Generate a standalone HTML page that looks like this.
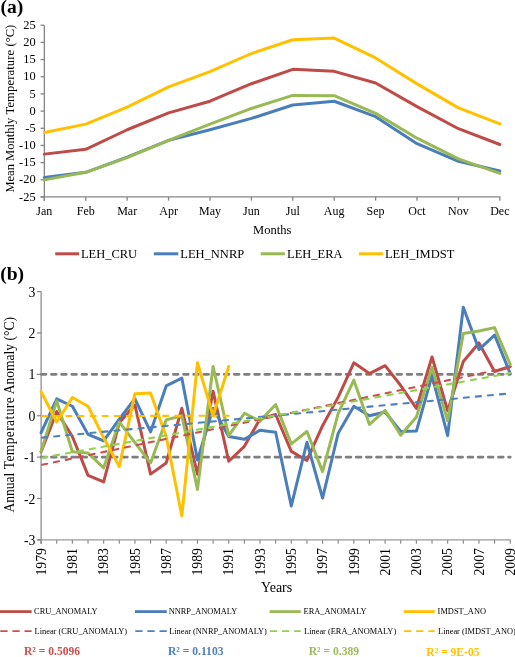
<!DOCTYPE html>
<html><head><meta charset="utf-8"><title>Temperature charts</title>
<style>
html,body{margin:0;padding:0;background:#fff;}
body{width:515px;height:657px;overflow:hidden;}
svg{display:block;font-family:"Liberation Serif","DejaVu Serif",serif;}
</style></head><body>
<svg width="515" height="657" viewBox="0 0 515 657">
<rect x="0" y="0" width="515" height="657" fill="#ffffff"/>
<line x1="44.35" y1="25.25" x2="44.35" y2="200.65" stroke="#858585" stroke-width="1.3" />
<line x1="40.55" y1="196.95" x2="500.45" y2="196.95" stroke="#858585" stroke-width="1.3" />
<line x1="40.55" y1="25.25" x2="44.35" y2="25.25" stroke="#858585" stroke-width="1.3" />
<text x="35.60" y="28.85" font-size="12.4" text-anchor="end" font-weight="normal" fill="#000" >25</text>
<line x1="40.55" y1="42.42" x2="44.35" y2="42.42" stroke="#858585" stroke-width="1.3" />
<text x="35.60" y="46.02" font-size="12.4" text-anchor="end" font-weight="normal" fill="#000" >20</text>
<line x1="40.55" y1="59.59" x2="44.35" y2="59.59" stroke="#858585" stroke-width="1.3" />
<text x="35.60" y="63.19" font-size="12.4" text-anchor="end" font-weight="normal" fill="#000" >15</text>
<line x1="40.55" y1="76.76" x2="44.35" y2="76.76" stroke="#858585" stroke-width="1.3" />
<text x="35.60" y="80.36" font-size="12.4" text-anchor="end" font-weight="normal" fill="#000" >10</text>
<line x1="40.55" y1="93.93" x2="44.35" y2="93.93" stroke="#858585" stroke-width="1.3" />
<text x="35.60" y="97.53" font-size="12.4" text-anchor="end" font-weight="normal" fill="#000" >5</text>
<line x1="40.55" y1="111.10" x2="44.35" y2="111.10" stroke="#858585" stroke-width="1.3" />
<text x="35.60" y="114.70" font-size="12.4" text-anchor="end" font-weight="normal" fill="#000" >0</text>
<line x1="40.55" y1="128.27" x2="44.35" y2="128.27" stroke="#858585" stroke-width="1.3" />
<text x="35.60" y="131.87" font-size="12.4" text-anchor="end" font-weight="normal" fill="#000" >-5</text>
<line x1="40.55" y1="145.44" x2="44.35" y2="145.44" stroke="#858585" stroke-width="1.3" />
<text x="35.60" y="149.04" font-size="12.4" text-anchor="end" font-weight="normal" fill="#000" >-10</text>
<line x1="40.55" y1="162.61" x2="44.35" y2="162.61" stroke="#858585" stroke-width="1.3" />
<text x="35.60" y="166.21" font-size="12.4" text-anchor="end" font-weight="normal" fill="#000" >-15</text>
<line x1="40.55" y1="179.78" x2="44.35" y2="179.78" stroke="#858585" stroke-width="1.3" />
<text x="35.60" y="183.38" font-size="12.4" text-anchor="end" font-weight="normal" fill="#000" >-20</text>
<line x1="40.55" y1="196.95" x2="44.35" y2="196.95" stroke="#858585" stroke-width="1.3" />
<text x="35.60" y="200.55" font-size="12.4" text-anchor="end" font-weight="normal" fill="#000" >-25</text>
<line x1="44.35" y1="196.95" x2="44.35" y2="200.65" stroke="#858585" stroke-width="1.3" />
<text x="44.35" y="215.20" font-size="12" text-anchor="middle" font-weight="normal" fill="#000" >Jan</text>
<line x1="85.76" y1="196.95" x2="85.76" y2="200.65" stroke="#858585" stroke-width="1.3" />
<text x="85.76" y="215.20" font-size="12" text-anchor="middle" font-weight="normal" fill="#000" >Feb</text>
<line x1="127.17" y1="196.95" x2="127.17" y2="200.65" stroke="#858585" stroke-width="1.3" />
<text x="127.17" y="215.20" font-size="12" text-anchor="middle" font-weight="normal" fill="#000" >Mar</text>
<line x1="168.58" y1="196.95" x2="168.58" y2="200.65" stroke="#858585" stroke-width="1.3" />
<text x="168.58" y="215.20" font-size="12" text-anchor="middle" font-weight="normal" fill="#000" >Apr</text>
<line x1="209.99" y1="196.95" x2="209.99" y2="200.65" stroke="#858585" stroke-width="1.3" />
<text x="209.99" y="215.20" font-size="12" text-anchor="middle" font-weight="normal" fill="#000" >May</text>
<line x1="251.40" y1="196.95" x2="251.40" y2="200.65" stroke="#858585" stroke-width="1.3" />
<text x="251.40" y="215.20" font-size="12" text-anchor="middle" font-weight="normal" fill="#000" >Jun</text>
<line x1="292.80" y1="196.95" x2="292.80" y2="200.65" stroke="#858585" stroke-width="1.3" />
<text x="292.80" y="215.20" font-size="12" text-anchor="middle" font-weight="normal" fill="#000" >Jul</text>
<line x1="334.21" y1="196.95" x2="334.21" y2="200.65" stroke="#858585" stroke-width="1.3" />
<text x="334.21" y="215.20" font-size="12" text-anchor="middle" font-weight="normal" fill="#000" >Aug</text>
<line x1="375.62" y1="196.95" x2="375.62" y2="200.65" stroke="#858585" stroke-width="1.3" />
<text x="375.62" y="215.20" font-size="12" text-anchor="middle" font-weight="normal" fill="#000" >Sep</text>
<line x1="417.03" y1="196.95" x2="417.03" y2="200.65" stroke="#858585" stroke-width="1.3" />
<text x="417.03" y="215.20" font-size="12" text-anchor="middle" font-weight="normal" fill="#000" >Oct</text>
<line x1="458.44" y1="196.95" x2="458.44" y2="200.65" stroke="#858585" stroke-width="1.3" />
<text x="458.44" y="215.20" font-size="12" text-anchor="middle" font-weight="normal" fill="#000" >Nov</text>
<line x1="499.85" y1="196.95" x2="499.85" y2="200.65" stroke="#858585" stroke-width="1.3" />
<text x="499.85" y="215.20" font-size="12" text-anchor="middle" font-weight="normal" fill="#000" >Dec</text>
<polyline points="44.35,154.12 85.76,149.31 127.17,129.74 168.58,112.91 209.99,101.23 251.40,83.72 292.80,69.30 334.21,71.36 375.62,83.03 417.03,106.59 458.44,128.71 499.85,144.50" fill="none" stroke="#BE4B48" stroke-width="3.0" stroke-linejoin="round" stroke-linecap="round" />
<polyline points="44.35,177.47 85.76,172.32 127.17,157.21 168.58,140.38 209.99,129.74 251.40,118.40 292.80,105.01 334.21,101.23 375.62,116.69 417.03,143.71 458.44,161.33 499.85,170.94" fill="none" stroke="#4A7EBB" stroke-width="3.0" stroke-linejoin="round" stroke-linecap="round" />
<polyline points="44.35,179.87 85.76,172.32 127.17,157.55 168.58,140.38 209.99,124.11 251.40,108.45 292.80,95.40 334.21,95.74 375.62,113.39 417.03,138.18 458.44,158.93 499.85,173.35" fill="none" stroke="#98B954" stroke-width="3.0" stroke-linejoin="round" stroke-linecap="round" />
<polyline points="44.35,132.48 85.76,124.11 127.17,107.21 168.58,86.92 209.99,71.70 251.40,53.50 292.80,39.77 334.21,38.05 375.62,57.97 417.03,83.89 458.44,107.90 499.85,123.80" fill="none" stroke="#FFC000" stroke-width="3.0" stroke-linejoin="round" stroke-linecap="round" />
<text x="0.40" y="13.20" font-size="19.6" text-anchor="start" font-weight="bold" fill="#000" >(a)</text>
<text x="14.50" y="108.70" font-size="12.55" text-anchor="middle" font-weight="normal" fill="#000" transform="rotate(-90 14.50 108.70)" >Mean Monthly <tspan letter-spacing="0.15">Temperature</tspan> (°C)</text>
<text x="272.20" y="233.50" font-size="12.5" text-anchor="middle" font-weight="normal" fill="#000" >Months</text>
<line x1="55.20" y1="253.80" x2="79.10" y2="253.80" stroke="#BE4B48" stroke-width="3.0" />
<text x="80.90" y="258.40" font-size="12.5" text-anchor="start" font-weight="normal" fill="#000" >LEH_CRU</text>
<line x1="153.80" y1="253.80" x2="178.30" y2="253.80" stroke="#4A7EBB" stroke-width="3.0" />
<text x="180.30" y="258.40" font-size="12.5" text-anchor="start" font-weight="normal" fill="#000" >LEH_NNRP</text>
<line x1="260.70" y1="253.80" x2="284.90" y2="253.80" stroke="#98B954" stroke-width="3.0" />
<text x="287.00" y="258.40" font-size="12.5" text-anchor="start" font-weight="normal" fill="#000" >LEH_ERA</text>
<line x1="358.90" y1="253.80" x2="382.90" y2="253.80" stroke="#FFC000" stroke-width="3.0" />
<text x="384.90" y="258.40" font-size="12.5" text-anchor="start" font-weight="normal" fill="#000" >LEH_IMDST</text>
<line x1="41.10" y1="291.60" x2="41.10" y2="543.90" stroke="#858585" stroke-width="1.2" />
<line x1="37.10" y1="539.90" x2="510.70" y2="539.90" stroke="#9a9a9a" stroke-width="1.1" />
<line x1="36.90" y1="291.60" x2="41.10" y2="291.60" stroke="#858585" stroke-width="1.2" />
<text x="35.40" y="296.70" font-size="13.75" text-anchor="end" font-weight="normal" fill="#000" >3</text>
<line x1="36.90" y1="332.98" x2="41.10" y2="332.98" stroke="#858585" stroke-width="1.2" />
<text x="35.40" y="338.08" font-size="13.75" text-anchor="end" font-weight="normal" fill="#000" >2</text>
<line x1="36.90" y1="374.37" x2="41.10" y2="374.37" stroke="#858585" stroke-width="1.2" />
<text x="35.40" y="379.47" font-size="13.75" text-anchor="end" font-weight="normal" fill="#000" >1</text>
<line x1="36.90" y1="415.75" x2="41.10" y2="415.75" stroke="#858585" stroke-width="1.2" />
<text x="35.40" y="420.85" font-size="13.75" text-anchor="end" font-weight="normal" fill="#000" >0</text>
<line x1="36.90" y1="457.13" x2="41.10" y2="457.13" stroke="#858585" stroke-width="1.2" />
<text x="35.40" y="462.23" font-size="13.75" text-anchor="end" font-weight="normal" fill="#000" >-1</text>
<line x1="36.90" y1="498.52" x2="41.10" y2="498.52" stroke="#858585" stroke-width="1.2" />
<text x="35.40" y="503.62" font-size="13.75" text-anchor="end" font-weight="normal" fill="#000" >-2</text>
<line x1="36.90" y1="539.90" x2="41.10" y2="539.90" stroke="#858585" stroke-width="1.2" />
<text x="35.40" y="545.00" font-size="13.75" text-anchor="end" font-weight="normal" fill="#000" >-3</text>
<line x1="41.10" y1="539.90" x2="41.10" y2="543.80" stroke="#858585" stroke-width="1.1" />
<text x="45.80" y="575.60" font-size="13.75" text-anchor="start" font-weight="normal" fill="#000" transform="rotate(-90 45.80 575.60)" >1979</text>
<line x1="56.74" y1="539.90" x2="56.74" y2="543.80" stroke="#858585" stroke-width="1.1" />
<line x1="72.37" y1="539.90" x2="72.37" y2="543.80" stroke="#858585" stroke-width="1.1" />
<text x="77.07" y="575.60" font-size="13.75" text-anchor="start" font-weight="normal" fill="#000" transform="rotate(-90 77.07 575.60)" >1981</text>
<line x1="88.01" y1="539.90" x2="88.01" y2="543.80" stroke="#858585" stroke-width="1.1" />
<line x1="103.65" y1="539.90" x2="103.65" y2="543.80" stroke="#858585" stroke-width="1.1" />
<text x="108.35" y="575.60" font-size="13.75" text-anchor="start" font-weight="normal" fill="#000" transform="rotate(-90 108.35 575.60)" >1983</text>
<line x1="119.28" y1="539.90" x2="119.28" y2="543.80" stroke="#858585" stroke-width="1.1" />
<line x1="134.92" y1="539.90" x2="134.92" y2="543.80" stroke="#858585" stroke-width="1.1" />
<text x="139.62" y="575.60" font-size="13.75" text-anchor="start" font-weight="normal" fill="#000" transform="rotate(-90 139.62 575.60)" >1985</text>
<line x1="150.56" y1="539.90" x2="150.56" y2="543.80" stroke="#858585" stroke-width="1.1" />
<line x1="166.19" y1="539.90" x2="166.19" y2="543.80" stroke="#858585" stroke-width="1.1" />
<text x="170.89" y="575.60" font-size="13.75" text-anchor="start" font-weight="normal" fill="#000" transform="rotate(-90 170.89 575.60)" >1987</text>
<line x1="181.83" y1="539.90" x2="181.83" y2="543.80" stroke="#858585" stroke-width="1.1" />
<line x1="197.47" y1="539.90" x2="197.47" y2="543.80" stroke="#858585" stroke-width="1.1" />
<text x="202.17" y="575.60" font-size="13.75" text-anchor="start" font-weight="normal" fill="#000" transform="rotate(-90 202.17 575.60)" >1989</text>
<line x1="213.10" y1="539.90" x2="213.10" y2="543.80" stroke="#858585" stroke-width="1.1" />
<line x1="228.74" y1="539.90" x2="228.74" y2="543.80" stroke="#858585" stroke-width="1.1" />
<text x="233.44" y="575.60" font-size="13.75" text-anchor="start" font-weight="normal" fill="#000" transform="rotate(-90 233.44 575.60)" >1991</text>
<line x1="244.38" y1="539.90" x2="244.38" y2="543.80" stroke="#858585" stroke-width="1.1" />
<line x1="260.01" y1="539.90" x2="260.01" y2="543.80" stroke="#858585" stroke-width="1.1" />
<text x="264.71" y="575.60" font-size="13.75" text-anchor="start" font-weight="normal" fill="#000" transform="rotate(-90 264.71 575.60)" >1993</text>
<line x1="275.65" y1="539.90" x2="275.65" y2="543.80" stroke="#858585" stroke-width="1.1" />
<line x1="291.29" y1="539.90" x2="291.29" y2="543.80" stroke="#858585" stroke-width="1.1" />
<text x="295.99" y="575.60" font-size="13.75" text-anchor="start" font-weight="normal" fill="#000" transform="rotate(-90 295.99 575.60)" >1995</text>
<line x1="306.92" y1="539.90" x2="306.92" y2="543.80" stroke="#858585" stroke-width="1.1" />
<line x1="322.56" y1="539.90" x2="322.56" y2="543.80" stroke="#858585" stroke-width="1.1" />
<text x="327.26" y="575.60" font-size="13.75" text-anchor="start" font-weight="normal" fill="#000" transform="rotate(-90 327.26 575.60)" >1997</text>
<line x1="338.20" y1="539.90" x2="338.20" y2="543.80" stroke="#858585" stroke-width="1.1" />
<line x1="353.83" y1="539.90" x2="353.83" y2="543.80" stroke="#858585" stroke-width="1.1" />
<text x="358.53" y="575.60" font-size="13.75" text-anchor="start" font-weight="normal" fill="#000" transform="rotate(-90 358.53 575.60)" >1999</text>
<line x1="369.47" y1="539.90" x2="369.47" y2="543.80" stroke="#858585" stroke-width="1.1" />
<line x1="385.11" y1="539.90" x2="385.11" y2="543.80" stroke="#858585" stroke-width="1.1" />
<text x="389.81" y="575.60" font-size="13.75" text-anchor="start" font-weight="normal" fill="#000" transform="rotate(-90 389.81 575.60)" >2001</text>
<line x1="400.74" y1="539.90" x2="400.74" y2="543.80" stroke="#858585" stroke-width="1.1" />
<line x1="416.38" y1="539.90" x2="416.38" y2="543.80" stroke="#858585" stroke-width="1.1" />
<text x="421.08" y="575.60" font-size="13.75" text-anchor="start" font-weight="normal" fill="#000" transform="rotate(-90 421.08 575.60)" >2003</text>
<line x1="432.02" y1="539.90" x2="432.02" y2="543.80" stroke="#858585" stroke-width="1.1" />
<line x1="447.65" y1="539.90" x2="447.65" y2="543.80" stroke="#858585" stroke-width="1.1" />
<text x="452.35" y="575.60" font-size="13.75" text-anchor="start" font-weight="normal" fill="#000" transform="rotate(-90 452.35 575.60)" >2005</text>
<line x1="463.29" y1="539.90" x2="463.29" y2="543.80" stroke="#858585" stroke-width="1.1" />
<line x1="478.93" y1="539.90" x2="478.93" y2="543.80" stroke="#858585" stroke-width="1.1" />
<text x="483.63" y="575.60" font-size="13.75" text-anchor="start" font-weight="normal" fill="#000" transform="rotate(-90 483.63 575.60)" >2007</text>
<line x1="494.56" y1="539.90" x2="494.56" y2="543.80" stroke="#858585" stroke-width="1.1" />
<line x1="510.20" y1="539.90" x2="510.20" y2="543.80" stroke="#858585" stroke-width="1.1" />
<text x="514.90" y="575.60" font-size="13.75" text-anchor="start" font-weight="normal" fill="#000" transform="rotate(-90 514.90 575.60)" >2009</text>
<line x1="41.30" y1="374.37" x2="510.20" y2="374.37" stroke="#7F7F7F" stroke-width="2.8" stroke-dasharray="4.7 5.46" stroke-linecap="round"/>
<line x1="41.30" y1="457.13" x2="510.20" y2="457.13" stroke="#7F7F7F" stroke-width="2.8" stroke-dasharray="4.7 5.46" stroke-linecap="round"/>
<polyline points="41.10,451.75 56.74,411.61 72.37,436.44 88.01,475.34 103.65,481.96 119.28,422.79 134.92,404.99 150.56,474.10 166.19,462.93 181.83,408.30 197.47,474.10 213.10,391.33 228.74,461.27 244.38,446.37 260.01,419.06 275.65,414.51 291.29,451.34 306.92,460.44 322.56,425.68 338.20,397.13 353.83,362.78 369.47,373.54 385.11,365.68 400.74,385.54 416.38,408.30 432.02,356.99 447.65,410.78 463.29,361.54 478.93,342.92 494.56,371.47 510.20,366.50" fill="none" stroke="#BE4B48" stroke-width="3.0" stroke-linejoin="round" stroke-linecap="round" />
<polyline points="41.10,432.72 56.74,398.78 72.37,406.23 88.01,434.37 103.65,440.99 119.28,419.06 134.92,398.78 150.56,431.89 166.19,385.95 181.83,378.09 197.47,460.03 213.10,408.30 228.74,436.44 244.38,439.34 260.01,430.23 275.65,432.30 291.29,505.97 306.92,442.24 322.56,498.10 338.20,433.13 353.83,406.23 369.47,415.75 385.11,412.03 400.74,431.48 416.38,431.06 432.02,375.61 447.65,435.61 463.29,307.33 478.93,349.54 494.56,335.05 510.20,373.54" fill="none" stroke="#4A7EBB" stroke-width="3.0" stroke-linejoin="round" stroke-linecap="round" />
<polyline points="41.10,451.34 56.74,400.85 72.37,451.75 88.01,453.00 103.65,467.89 119.28,421.96 134.92,442.65 150.56,462.93 166.19,419.89 181.83,415.75 197.47,489.41 213.10,366.50 228.74,435.61 244.38,413.27 260.01,421.13 275.65,404.58 291.29,443.89 306.92,431.48 322.56,471.62 338.20,413.27 353.83,380.16 369.47,424.44 385.11,410.37 400.74,435.20 416.38,416.99 432.02,367.33 447.65,420.72 463.29,333.40 478.93,330.91 494.56,327.60 510.20,364.43" fill="none" stroke="#98B954" stroke-width="3.0" stroke-linejoin="round" stroke-linecap="round" />
<polyline points="41.10,391.75 56.74,421.96 72.37,397.54 88.01,406.23 103.65,437.68 119.28,466.65 134.92,393.82 150.56,392.99 166.19,436.44 181.83,515.90 197.47,362.78 213.10,415.75 228.74,366.50" fill="none" stroke="#FFC000" stroke-width="3.0" stroke-linejoin="round" stroke-linecap="round" />
<line x1="42.10" y1="464.79" x2="510.20" y2="367.33" stroke="#C9504D" stroke-width="2.1" stroke-dasharray="5.2 6.9" stroke-linecap="round"/>
<line x1="42.10" y1="437.59" x2="510.20" y2="393.40" stroke="#4F81BD" stroke-width="2.1" stroke-dasharray="5.2 6.9" stroke-linecap="round"/>
<line x1="42.10" y1="457.78" x2="510.20" y2="373.13" stroke="#92D050" stroke-width="2.1" stroke-dasharray="5.2 6.9" stroke-linecap="round"/>
<line x1="42.10" y1="416.16" x2="228.74" y2="415.75" stroke="#FFC000" stroke-width="2.1" stroke-dasharray="5.2 6.9" stroke-linecap="round"/>
<text x="0.20" y="279.70" font-size="19.6" text-anchor="start" font-weight="bold" fill="#000" >(b)</text>
<text x="14.00" y="414.80" font-size="13.55" text-anchor="middle" font-weight="normal" fill="#000" transform="rotate(-90 14.00 414.80)" >Annual <tspan letter-spacing="0.38">Temperature</tspan> Anomaly (°C)</text>
<text x="276.60" y="592.00" font-size="14" text-anchor="middle" font-weight="normal" fill="#000" >Years</text>
<line x1="0.00" y1="611.60" x2="31.60" y2="611.60" stroke="#BE4B48" stroke-width="2.8" />
<text x="34.10" y="614.00" font-size="8.4" text-anchor="start" font-weight="normal" fill="#000" >CRU_ANOMALY</text>
<line x1="0.30" y1="631.20" x2="31.60" y2="631.20" stroke="#C9504D" stroke-width="1.8" stroke-dasharray="7.3 4.8"/>
<text x="34.60" y="634.10" font-size="8.35" text-anchor="start" font-weight="normal" fill="#000" >Linear (CRU_ANOMALY)</text>
<text x="24.00" y="654.50" font-size="11.6" text-anchor="start" font-weight="bold" fill="#C9504D" >R² = 0.5096</text>
<line x1="135.00" y1="611.60" x2="166.80" y2="611.60" stroke="#4A7EBB" stroke-width="2.8" />
<text x="168.70" y="614.00" font-size="8.4" text-anchor="start" font-weight="normal" fill="#000" >NNRP_ANOMALY</text>
<line x1="135.30" y1="631.20" x2="166.80" y2="631.20" stroke="#4F81BD" stroke-width="1.8" stroke-dasharray="7.3 4.8"/>
<text x="169.20" y="634.10" font-size="8.35" text-anchor="start" font-weight="normal" fill="#000" >Linear (NNRP_ANOMALY)</text>
<text x="168.00" y="654.50" font-size="11.6" text-anchor="start" font-weight="bold" fill="#4F81BD" >R² = 0.1103</text>
<line x1="269.60" y1="611.60" x2="300.80" y2="611.60" stroke="#98B954" stroke-width="2.8" />
<text x="303.60" y="614.00" font-size="8.4" text-anchor="start" font-weight="normal" fill="#000" >ERA_ANOMALY</text>
<line x1="269.90" y1="631.20" x2="300.80" y2="631.20" stroke="#92D050" stroke-width="1.8" stroke-dasharray="7.3 4.8"/>
<text x="304.10" y="634.10" font-size="8.35" text-anchor="start" font-weight="normal" fill="#000" >Linear (ERA_ANOMALY)</text>
<text x="308.70" y="654.50" font-size="11.6" text-anchor="start" font-weight="bold" fill="#9BBB59" >R² = 0.389</text>
<line x1="403.80" y1="611.60" x2="434.80" y2="611.60" stroke="#FFC000" stroke-width="2.8" />
<text x="437.60" y="614.00" font-size="8.4" text-anchor="start" font-weight="normal" fill="#000" >IMDST_ANO</text>
<line x1="404.10" y1="631.20" x2="434.80" y2="631.20" stroke="#FFC000" stroke-width="1.8" stroke-dasharray="7.3 4.8"/>
<text x="438.10" y="634.10" font-size="8.35" text-anchor="start" font-weight="normal" fill="#000" >Linear (IMDST_ANO)</text>
<text x="426.30" y="656.10" font-size="11.6" text-anchor="start" font-weight="bold" fill="#FFC000" >R² = 9E-05</text>
</svg>
</body></html>
